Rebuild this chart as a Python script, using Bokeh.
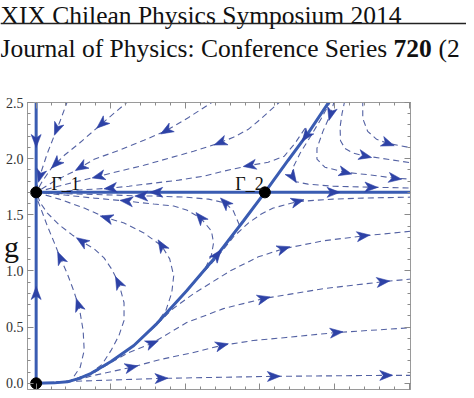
import math
from bokeh.plotting import figure
from bokeh.models import Range1d, LinearAxis, SingleIntervalTicker, NumeralTickFormatter, CustomJSTickFormatter
from bokeh.embed import file_html
from bokeh.resources import INLINE
from bokeh.core.properties import value

# ---------------- header texts ----------------
HEADER_LINE1 = "XIX Chilean Physics Symposium 2014"
HEADER_LINE2 = "Journal of Physics: Conference Series"
HEADER_BOLD = "720"
HEADER_TAIL = "(2"
Y_LABEL = "g"

# ---------------- fixed points ----------------
FIXED_X = [0.0, 0.0, 1.533]
FIXED_Y = [0.0, 1.7, 1.7]
FIXED_NAMES = ["Γ_1", "Γ_2"]
NAME_X = [0.102, 1.335]
NAME_Y = [1.773, 1.773]

# ---------------- separatrices (thick) ----------------
V_UP_X = [0.0, 0.0]
V_UP_Y = [2.52, 1.7]
V_UP_AX, V_UP_AY = [0.0], [2.163]
V_LOW_X = [0.0, 0.0]
V_LOW_Y = [0.0, 1.7]
V_LOW_AX, V_LOW_AY = [0.0], [0.798]
H_LEFT_X = [1.533, 0.0]
H_LEFT_Y = [1.7, 1.7]
H_LEFT_AX, H_LEFT_AY = [0.809], [1.7]
H_RIGHT_X = [1.533, 2.53]
H_RIGHT_Y = [1.7, 1.7]
H_RIGHT_AX, H_RIGHT_AY = [1.989], [1.7]
D_LOW_X = [0.0, 0.122, 0.209, 0.289, 0.369, 0.502, 0.655, 0.809, 1.009, 1.209, 1.389, 1.533]
D_LOW_Y = [0.0, 0.004, 0.013, 0.044, 0.089, 0.195, 0.337, 0.532, 0.824, 1.135, 1.445, 1.7]
D_LOW_AX, D_LOW_AY = [1.209], [1.14]
D_UP_X = [1.97, 1.822, 1.689, 1.533]
D_UP_Y = [2.52, 2.225, 1.986, 1.7]
D_UP_AX, D_UP_AY = [1.809], [2.207]

# ---------------- stream lines (dashed) ----------------
U1_X = [0.212, 0.162, 0.122, 0.075, 0.035, 0.009, 0.0]
U1_Y = [2.52, 2.34, 2.207, 2.048, 1.888, 1.764, 1.7]
U1_AX, U1_AY = [0.135, 0.022], [2.27, 1.853]
U2_X = [0.625, 0.489, 0.389, 0.289, 0.189, 0.102, 0.042, 0.0]
U2_Y = [2.52, 2.367, 2.252, 2.137, 2.03, 1.915, 1.80, 1.7]
U2_AX, U2_AY = [0.442, 0.135], [2.314, 1.96]
U3_X = [1.2, 1.022, 0.875, 0.722, 0.555, 0.389, 0.255, 0.122, 0.0]
U3_Y = [2.52, 2.367, 2.252, 2.163, 2.074, 1.995, 1.888, 1.80, 1.7]
U3_AX, U3_AY = [0.875, 0.302], [2.252, 1.93]
U4_X = [1.645, 1.509, 1.422, 1.322, 1.222, 1.055, 0.889, 0.722, 0.555, 0.422, 0.255, 0.122, 0.0]
U4_Y = [2.52, 2.358, 2.261, 2.19, 2.137, 2.066, 2.004, 1.941, 1.888, 1.844, 1.791, 1.746, 1.7]
U4_AX, U4_AY = [1.242, 0.422], [2.13, 1.844]
U5_X = [1.802, 1.735, 1.662, 1.555, 1.435, 1.255, 1.122, 0.955, 0.789, 0.622, 0.502, 0.322, 0.155, 0.0]
U5_Y = [2.27, 2.137, 2.021, 1.968, 1.941, 1.888, 1.844, 1.809, 1.782, 1.755, 1.738, 1.724, 1.707, 1.7]
U5_AX, U5_AY = [1.435, 0.502], [1.941, 1.738]

L1_X = [0.135, 0.235, 0.295, 0.322, 0.315, 0.289, 0.249, 0.209, 0.162, 0.122, 0.075, 0.035, 0.009, 0.0]
L1_Y = [0.009, 0.027, 0.142, 0.293, 0.47, 0.674, 0.833, 0.975, 1.117, 1.25, 1.401, 1.543, 1.631, 1.7]
L1_AX, L1_AY = [0.275, 0.155], [0.691, 1.108]
L2_X = [0.355, 0.442, 0.502, 0.555, 0.589, 0.589, 0.555, 0.509, 0.455, 0.389, 0.322, 0.242, 0.155, 0.075, 0.029, 0.0]
L2_Y = [0.08, 0.169, 0.293, 0.426, 0.559, 0.718, 0.887, 1.011, 1.117, 1.197, 1.25, 1.321, 1.41, 1.516, 1.605, 1.7]
L2_AX, L2_AY = [0.555, 0.309], [0.895, 1.26]
L3_X = [0.789, 0.869, 0.909, 0.922, 0.895, 0.842, 0.722, 0.589, 0.475, 0.322, 0.155, 0.0]
L3_Y = [0.505, 0.647, 0.807, 0.958, 1.108, 1.223, 1.339, 1.427, 1.472, 1.56, 1.64, 1.7]
L3_AX, L3_AY = [0.842, 0.475], [1.223, 1.472]
L4_X = [1.135, 1.175, 1.189, 1.175, 1.102, 1.009, 0.922, 0.789, 0.609, 0.389, 0.189, 0.0]
L4_Y = [1.028, 1.144, 1.25, 1.356, 1.472, 1.543, 1.578, 1.596, 1.622, 1.649, 1.676, 1.7]
L4_AX, L4_AY = [1.102, 0.609], [1.472, 1.622]
L5_X = [1.362, 1.322, 1.269, 1.155, 0.989, 0.789, 0.709, 0.522, 0.322, 0.122, 0.0]
L5_Y = [1.409, 1.534, 1.605, 1.64, 1.658, 1.667, 1.667, 1.676, 1.684, 1.69, 1.7]
L5_AX, L5_AY = [1.269, 0.709], [1.605, 1.667]

R1_X = [0.0, 0.255, 0.836, 1.589, 2.342, 2.53]
R1_Y = [0.0, 0.018, 0.044, 0.062, 0.071, 0.071]
R1_AX, R1_AY = [0.836, 1.589, 2.342], [0.044, 0.062, 0.071]
R2_X = [0.0, 0.222, 0.389, 0.635, 0.836, 1.055, 1.242, 1.455, 1.675, 2.009, 2.53]
R2_Y = [0.0, 0.013, 0.071, 0.142, 0.213, 0.275, 0.337, 0.381, 0.408, 0.452, 0.496]
R2_AX, R2_AY = [0.635, 1.242, 2.009], [0.142, 0.337, 0.452]
R3_X = [0.0, 0.209, 0.369, 0.502, 0.622, 0.775, 1.009, 1.255, 1.522, 1.922, 2.322, 2.53]
R3_Y = [0.0, 0.013, 0.080, 0.186, 0.275, 0.355, 0.541, 0.665, 0.754, 0.842, 0.904, 0.931]
R3_AX, R3_AY = [0.775, 1.522, 2.322], [0.355, 0.754, 0.904]
R4_X = [0.0, 0.209, 0.369, 0.502, 0.655, 0.802, 0.909, 1.055, 1.302, 1.489, 1.655, 1.922, 2.189, 2.53]
R4_Y = [0.0, 0.013, 0.089, 0.195, 0.337, 0.514, 0.656, 0.798, 1.002, 1.126, 1.197, 1.268, 1.312, 1.356]
R4_AX, R4_AY = [1.655, 2.189], [1.197, 1.312]
R5_X = [0.0, 0.209, 0.369, 0.502, 0.655, 0.809, 1.009, 1.215, 1.322, 1.422, 1.509, 1.589, 1.749, 1.989, 2.189, 2.53]
R5_Y = [0.0, 0.013, 0.089, 0.195, 0.337, 0.532, 0.824, 1.126, 1.303, 1.427, 1.507, 1.56, 1.618, 1.64, 1.649, 1.658]
R5_AX, R5_AY = [1.749], [1.618]

T0_X = [1.978, 1.912, 1.84, 1.77, 1.725, 1.713, 1.74, 1.822, 1.989, 2.242, 2.53]
T0_Y = [2.52, 2.36, 2.2, 2.05, 1.93, 1.85, 1.795, 1.773, 1.755, 1.746, 1.738]
T0_AX, T0_AY = [1.718, 2.242], [1.84, 1.746]
T1_X = [1.999, 1.975, 1.922, 1.882, 1.882, 1.935, 2.069, 2.255, 2.402, 2.53]
T1_Y = [2.52, 2.402, 2.243, 2.092, 1.995, 1.924, 1.879, 1.853, 1.826, 1.817]
T1_AX, T1_AY = [1.975, 2.069, 2.402], [2.402, 1.879, 1.826]
T2_X = [2.069, 2.05, 2.037, 2.04, 2.07, 2.122, 2.202, 2.355, 2.53]
T2_Y = [2.52, 2.4, 2.28, 2.16, 2.09, 2.05, 2.025, 1.995, 1.959]
T2_AX, T2_AY = [2.202], [2.025]
T3_X = [2.189, 2.189, 2.222, 2.282, 2.355, 2.53]
T3_Y = [2.52, 2.358, 2.243, 2.172, 2.137, 2.092]
T3_AX, T3_AY = [2.355], [2.137]

THICK = [
    (V_UP_X, V_UP_Y, V_UP_AX, V_UP_AY), (V_LOW_X, V_LOW_Y, V_LOW_AX, V_LOW_AY),
    (H_LEFT_X, H_LEFT_Y, H_LEFT_AX, H_LEFT_AY), (H_RIGHT_X, H_RIGHT_Y, H_RIGHT_AX, H_RIGHT_AY),
    (D_LOW_X, D_LOW_Y, D_LOW_AX, D_LOW_AY), (D_UP_X, D_UP_Y, D_UP_AX, D_UP_AY),
]
DASHED = [
    (U1_X, U1_Y, U1_AX, U1_AY), (U2_X, U2_Y, U2_AX, U2_AY), (U3_X, U3_Y, U3_AX, U3_AY),
    (U4_X, U4_Y, U4_AX, U4_AY), (U5_X, U5_Y, U5_AX, U5_AY),
    (L1_X, L1_Y, L1_AX, L1_AY), (L2_X, L2_Y, L2_AX, L2_AY), (L3_X, L3_Y, L3_AX, L3_AY),
    (L4_X, L4_Y, L4_AX, L4_AY), (L5_X, L5_Y, L5_AX, L5_AY),
    (R1_X, R1_Y, R1_AX, R1_AY), (R2_X, R2_Y, R2_AX, R2_AY), (R3_X, R3_Y, R3_AX, R3_AY),
    (R4_X, R4_Y, R4_AX, R4_AY), (R5_X, R5_Y, R5_AX, R5_AY),
    (T0_X, T0_Y, T0_AX, T0_AY), (T1_X, T1_Y, T1_AX, T1_AY), (T2_X, T2_Y, T2_AX, T2_AY),
    (T3_X, T3_Y, T3_AX, T3_AY),
]

# ---------------- styling / layout ----------------
SERIF = "Liberation Serif"
THICK_COLOR = "#3a5cb2"
DASH_COLOR = "#5462a3"
ARROW_COLOR = "#2d42a6"
X_START, X_END = -0.058, 2.509
Y_START, Y_END = -0.055, 2.5
W = 466
HH = 80           # header height
H = 310           # plot height
B_LEFT, B_RIGHT, B_TOP, B_BOTTOM = 25, 56, 22, 1
FRAME_W, FRAME_H = W - B_LEFT - B_RIGHT, H - B_TOP - B_BOTTOM
SX = FRAME_W / (X_END - X_START)
SY = FRAME_H / (Y_END - Y_START)


def arrowhead(xs, ys, ax, ay, length=13.0, half=5.0, notch=3.5):
    px = [x * SX for x in xs]
    py = [y * SY for y in ys]
    qx, qy = ax * SX, ay * SY
    best = None
    for i in range(len(px) - 1):
        dx, dy = px[i + 1] - px[i], py[i + 1] - py[i]
        l2 = dx * dx + dy * dy
        if l2 == 0:
            continue
        t = max(0.0, min(1.0, ((qx - px[i]) * dx + (qy - py[i]) * dy) / l2))
        cx, cy = px[i] + t * dx, py[i] + t * dy
        d = (cx - qx) ** 2 + (cy - qy) ** 2
        if best is None or d < best[0]:
            best = (d, dx, dy, cx, cy)
    _, dx, dy, cx, cy = best
    n = math.hypot(dx, dy)
    ux, uy = dx / n, dy / n
    vx, vy = -uy, ux
    tip = (cx + ux * length * 0.55, cy + uy * length * 0.55)
    bx, by = cx - ux * length * 0.45, cy - uy * length * 0.45
    pts = [tip, (bx + vx * half, by + vy * half), (bx + ux * notch, by + uy * notch),
           (bx - vx * half, by - vy * half)]
    return [q[0] / SX for q in pts], [q[1] / SY for q in pts]


# ---------------- header figure (canvas pixel coordinates) ----------------
header = figure(width=W, height=HH, x_range=Range1d(0, W), y_range=Range1d(HH, 0),
                output_backend="svg", toolbar_location=None, min_border=0,
                x_axis_location=None, y_axis_location=None)
header.grid.visible = False
header.outline_line_color = None
hkw = dict(text_font=value(SERIF), text_font_size="25.5px", text_baseline="alphabetic",
           text_align="left", text_color="#111111")
header.text(x=[0], y=[15], text=[HEADER_LINE1], **hkw)
header.segment(x0=[0], y0=[23], x1=[W], y1=[23], line_color="#222222", line_width=1.3)
header.text(x=[0], y=[48], text=[HEADER_LINE2], **hkw)
header.text(x=[393], y=[48], text=[HEADER_BOLD], text_font_style="bold", **hkw)
header.text(x=[438], y=[48], text=[HEADER_TAIL], **hkw)

# ---------------- main figure ----------------
p = figure(width=W, height=H, x_range=Range1d(X_START, X_END), y_range=Range1d(Y_START, Y_END),
           output_backend="svg", toolbar_location=None,
           min_border_left=B_LEFT, min_border_right=B_RIGHT, min_border_top=B_TOP,
           min_border_bottom=B_BOTTOM)
p.grid.visible = False
p.outline_line_color = "#9a9a9a"
p.background_fill_color = "white"
p.border_fill_color = "white"

p.add_layout(LinearAxis(), "right")
p.add_layout(LinearAxis(), "above")
blank = CustomJSTickFormatter(code="return ''")
for ax in p.axis:
    ax.ticker = SingleIntervalTicker(interval=0.5, num_minor_ticks=5)
    ax.major_tick_in = 6
    ax.major_tick_out = 0
    ax.minor_tick_in = 3
    ax.minor_tick_out = 0
    ax.major_tick_line_color = "#8a8a8a"
    ax.minor_tick_line_color = "#8a8a8a"
    ax.axis_line_color = "#9a9a9a"
    ax.major_label_standoff = 0
    ax.formatter = blank
left_axis = p.left[0]
left_axis.major_label_text_font_size = "14px"
left_axis.major_label_text_font = SERIF
left_axis.major_label_text_color = "#333333"
left_axis.major_label_standoff = 4
left_axis.formatter = NumeralTickFormatter(format="0.0")
left_axis.axis_label = Y_LABEL
left_axis.axis_label_orientation = "horizontal"
left_axis.axis_label_text_font = SERIF
left_axis.axis_label_text_font_style = "normal"
left_axis.axis_label_text_font_size = "30px"
left_axis.axis_label_text_color = "#111111"
left_axis.axis_label_standoff = -16

# dashed stream lines
p.multi_line(xs=[c[0] for c in DASHED], ys=[c[1] for c in DASHED], line_color=DASH_COLOR,
             line_width=1.1, line_dash="6 4")
# thick separatrices
p.multi_line(xs=[c[0] for c in THICK], ys=[c[1] for c in THICK], line_color=THICK_COLOR,
             line_width=3)

# arrowheads
axs, ays = [], []
for xs, ys, aX, aY in DASHED + THICK:
    for a, b in zip(aX, aY):
        hx, hy = arrowhead(xs, ys, a, b)
        axs.append(hx)
        ays.append(hy)
p.patches(xs=axs, ys=ays, fill_color=ARROW_COLOR, line_color=ARROW_COLOR, line_width=0.6)

# fixed points
p.scatter(x=FIXED_X, y=FIXED_Y, size=11, fill_color="black", line_color="black")
p.text(x=NAME_X, y=NAME_Y, text=FIXED_NAMES, text_font=value(SERIF), text_font_size="18px",
       text_baseline="alphabetic", text_align="left", text_color="#111111")

open("out.html", "w").write(file_html([header, p], INLINE))
